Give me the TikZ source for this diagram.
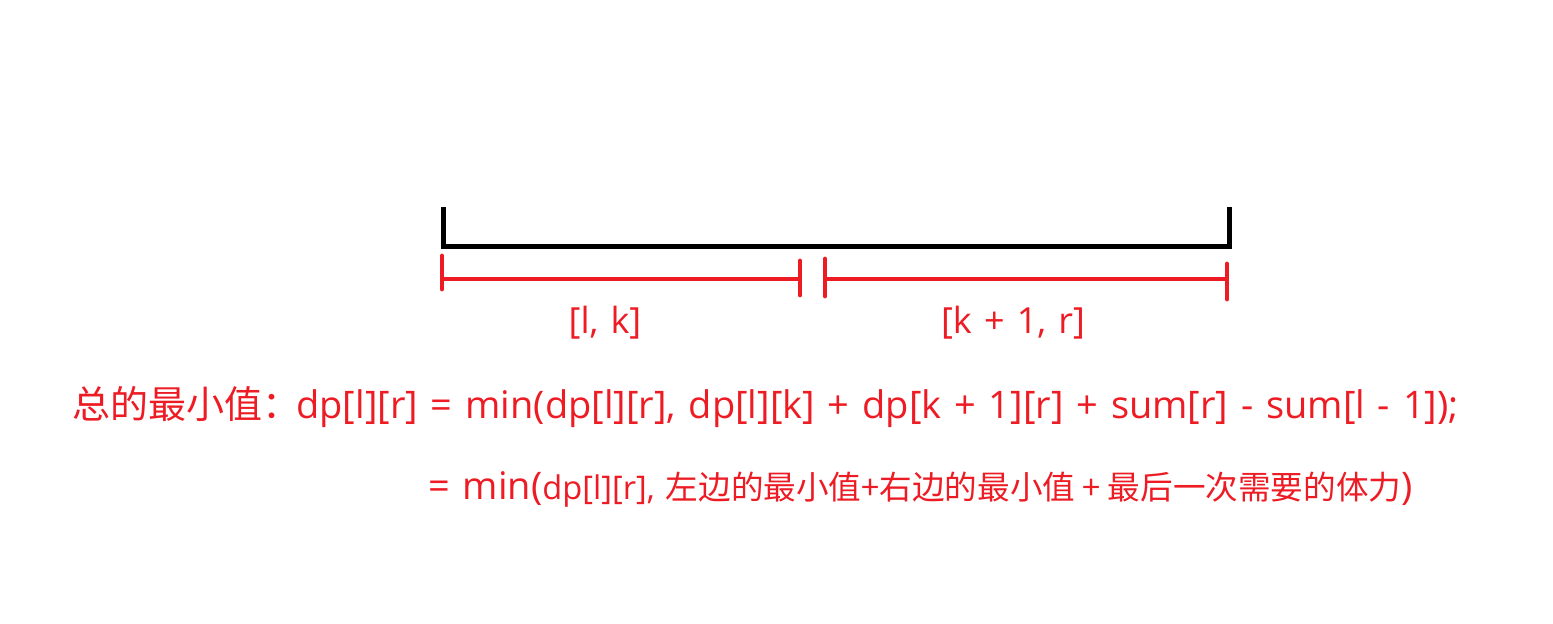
\documentclass[tikz,border=0pt]{standalone}
\usepackage{fontspec}
\setmainfont[WordSpace=1.3]{Open Sans}
\newfontfamily\cjk{Noto Sans CJK SC}
\definecolor{pred}{HTML}{ED1C24}
\begin{document}
\begin{tikzpicture}[x=0.5pt,y=-0.5pt,
  bar/.style={line width=2.5pt},
  redbar/.style={line width=2.2pt,color=pred},
  tick/.style={line width=2.4pt,color=pred,line cap=round},
  lbl/.style={text=pred,inner sep=0pt,font=\fontsize{18}{21}\selectfont},
  big/.style={text=pred,inner sep=0pt,anchor=base west,font=\fontsize{19}{22}\selectfont}]
\useasboundingbox (0,0) rectangle (1553,623);
% black interval
\coordinate (b1) at (443,207);
\coordinate (b2) at (443,246);
\coordinate (b3) at (1229,246);
\coordinate (b4) at (1229,207);
\draw[bar] (b1) -- (b2) -- (b3) -- (b4);
% left red interval
\coordinate (l1) at (442,279);
\coordinate (l2) at (800,279);
\draw[redbar] (l1) -- (l2);
\draw[tick] (442,256) -- (442,289);
\draw[tick] (800,261) -- (800,295);
% right red interval
\coordinate (r1) at (825,279);
\coordinate (r2) at (1227,279);
\draw[redbar] (r1) -- (r2);
\draw[tick] (825,259) -- (825,296);
\draw[tick] (1227,264) -- (1227,299);
% labels
\node[lbl] (lk) at (605,323) {[l, k]};
\node[lbl] (kr) at (1013,323) {[k + 1, r]};
\node[big] (eq1) at (72,418) {{\cjk 总的最小值：}\hspace{-2pt}dp[l][r] = min(dp[l][r], dp[l][k] + dp[k + 1][r] + sum[r] - sum[l - 1]);};
\node[big] (eq2) at (428,499) {= min({\fontsize{16.3}{19}\selectfont dp[l][r], {\cjk 左边的最小值+右边的最小值 + 最后一次需要的体力}})};
\end{tikzpicture}
\end{document}
